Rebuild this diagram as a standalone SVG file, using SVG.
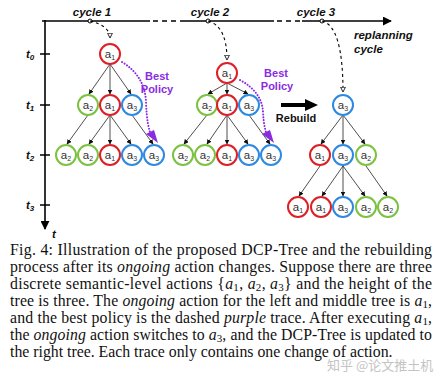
<svg xmlns="http://www.w3.org/2000/svg" width="448" height="385" viewBox="0 0 448 385">
<style>
.bg{fill:#fff}
.ax{stroke:#000;stroke-width:1.6;fill:none}
.axd{stroke:#000;stroke-width:1.6;fill:none;stroke-dasharray:5 4}
.cd{stroke:#000;stroke-width:1.1;fill:none;stroke-dasharray:3 3}
.ed{stroke:#222;stroke-width:0.8;fill:none}
.bp{stroke:#8a2be2;stroke-width:2;fill:none;stroke-dasharray:0.1 2.8;stroke-linecap:round}
.n circle{fill:#fff;stroke-width:2}
.r circle{stroke:#dd1f26}
.g circle{stroke:#7cc242}
.b circle{stroke:#2d8ae0}
.n text{font-family:"Liberation Sans",Arial,sans-serif;font-size:11.5px;fill:#333;text-anchor:middle}
.sub{font-size:7px}
.lab{font-family:"Liberation Sans",Arial,sans-serif;font-weight:bold;font-style:italic;font-size:11.5px;fill:#111}
.pol{font-family:"Liberation Sans",Arial,sans-serif;font-weight:bold;font-size:11px;fill:#8a2be2;text-anchor:middle}
.cap{font-family:"Liberation Serif","Times New Roman",serif;font-size:15.8px;fill:#111}
.it{font-style:italic}
.wm{font-family:"Noto Sans CJK SC","Liberation Sans",sans-serif;font-size:13px;fill:#c4c4c4}
</style>
<defs>
<marker id="ah" viewBox="0 0 10 10" refX="9" refY="5" markerWidth="5" markerHeight="5" markerUnits="userSpaceOnUse" orient="auto"><path d="M0,0 L10,5 L0,10 z" fill="#111"/></marker>
<marker id="oh" viewBox="0 0 10 10" refX="9" refY="5" markerWidth="6" markerHeight="6" markerUnits="userSpaceOnUse" orient="auto"><path d="M1,1 L9,5 L1,9 z" fill="#fff" stroke="#111" stroke-width="1.5"/></marker>
<marker id="axh" viewBox="0 0 10 10" refX="9" refY="5" markerWidth="9" markerHeight="9" markerUnits="userSpaceOnUse" orient="auto"><path d="M0,0 L10,5 L0,10 z" fill="#000"/></marker>
</defs>
<rect class="bg" width="448" height="385"/>

<g id="axes">
<line class="ax" x1="45" y1="20" x2="45" y2="229" marker-end="url(#axh)"/>
<line class="ax" x1="42" y1="21" x2="150" y2="21"/>
<line class="axd" x1="153" y1="21" x2="185" y2="21"/>
<line class="ax" x1="185" y1="21" x2="274" y2="21"/>
<line class="axd" x1="277" y1="21" x2="302" y2="21"/>
<line class="ax" x1="302" y1="21" x2="391" y2="21" marker-end="url(#axh)"/>
<path class="ax" d="M40,54 H50 M40,105 H50 M40,155 H50 M40,205 H50"/>
<circle cx="90" cy="21" r="2" fill="#fff" stroke="#000" stroke-width="1"/>
<circle cx="208" cy="21" r="2" fill="#fff" stroke="#000" stroke-width="1"/>
<circle cx="322" cy="21" r="2" fill="#fff" stroke="#000" stroke-width="1"/>
<text class="lab" x="92" y="16" text-anchor="middle">cycle 1</text>
<text class="lab" x="210" y="16" text-anchor="middle">cycle 2</text>
<text class="lab" x="316" y="16" text-anchor="middle">cycle 3</text>
<text class="lab" x="354" y="39">replanning</text>
<text class="lab" x="354" y="53">cycle</text>
<text class="lab" x="26" y="58">t<tspan font-size="8" dy="2">0</tspan></text>
<text class="lab" x="26" y="109">t<tspan font-size="8" dy="2">1</tspan></text>
<text class="lab" x="26" y="159">t<tspan font-size="8" dy="2">2</tspan></text>
<text class="lab" x="26" y="209">t<tspan font-size="8" dy="2">3</tspan></text>
<text class="lab" x="52" y="238">t</text>
</g>

<g id="connectors">
<path class="cd" d="M90,21 Q110,26 110,38" marker-end="url(#oh)"/>
<path class="cd" d="M208,21 Q227,26 227,60" marker-end="url(#oh)"/>
<path class="cd" d="M322,21 Q343,26 343,92" marker-end="url(#oh)"/>
<line class="ed" x1="110" y1="64" x2="89" y2="94" marker-end="url(#ah)"/>
<line class="ed" x1="110" y1="64" x2="110" y2="94" marker-end="url(#ah)"/>
<line class="ed" x1="110" y1="64" x2="131" y2="94" marker-end="url(#ah)"/>
<line class="ed" x1="88" y1="115" x2="67" y2="144" marker-end="url(#ah)"/>
<line class="ed" x1="110" y1="115" x2="89" y2="144" marker-end="url(#ah)"/>
<line class="ed" x1="110" y1="115" x2="110" y2="144" marker-end="url(#ah)"/>
<line class="ed" x1="110" y1="115" x2="131" y2="144" marker-end="url(#ah)"/>
<line class="ed" x1="132" y1="115" x2="153" y2="144" marker-end="url(#ah)"/>
<line class="ed" x1="227" y1="83" x2="208" y2="94" marker-end="url(#ah)"/>
<line class="ed" x1="227" y1="83" x2="227" y2="94" marker-end="url(#ah)"/>
<line class="ed" x1="227" y1="83" x2="248" y2="94" marker-end="url(#ah)"/>
<line class="ed" x1="207" y1="115" x2="184" y2="144" marker-end="url(#ah)"/>
<line class="ed" x1="227" y1="115" x2="207" y2="144" marker-end="url(#ah)"/>
<line class="ed" x1="227" y1="115" x2="227" y2="144" marker-end="url(#ah)"/>
<line class="ed" x1="227" y1="115" x2="248" y2="144" marker-end="url(#ah)"/>
<line class="ed" x1="249" y1="115" x2="270" y2="144" marker-end="url(#ah)"/>
<line class="ed" x1="343" y1="115" x2="321" y2="144" marker-end="url(#ah)"/>
<line class="ed" x1="343" y1="115" x2="343" y2="144" marker-end="url(#ah)"/>
<line class="ed" x1="343" y1="115" x2="365" y2="144" marker-end="url(#ah)"/>
<line class="ed" x1="320" y1="166" x2="299" y2="196" marker-end="url(#ah)"/>
<line class="ed" x1="343" y1="166" x2="322" y2="196" marker-end="url(#ah)"/>
<line class="ed" x1="343" y1="166" x2="343" y2="196" marker-end="url(#ah)"/>
<line class="ed" x1="343" y1="166" x2="365" y2="196" marker-end="url(#ah)"/>
<line class="ed" x1="366" y1="166" x2="387" y2="196" marker-end="url(#ah)"/>
<path class="bp" d="M122,62 Q145,76 146,102 Q147,128 152,137"/>
<path d="M146,134 L158,143 L154,130 z" fill="#8a2be2"/>
<path class="bp" d="M240,80 Q262,92 263,112 Q264,130 268,137"/>
<path d="M262,134 L274,143 L270,130 z" fill="#8a2be2"/>
<line x1="281" y1="105" x2="307" y2="105" stroke="#000" stroke-width="4"/>
<path d="M305,99 L318,105 L305,111 z" fill="#000"/>
</g>

<g id="labels">
<text class="pol" x="157" y="80">Best</text>
<text class="pol" x="157" y="93">Policy</text>
<text class="pol" x="276" y="77">Best</text>
<text class="pol" x="277" y="90">Policy</text>
<text x="296" y="122" text-anchor="middle" font-family="'Liberation Sans',Arial,sans-serif" font-weight="bold" font-size="11" fill="#111">Rebuild</text>
</g>

<g id="left-tree">
<g id="L0" class="n r"><circle cx="110" cy="54" r="10"/><text x="110" y="58">a<tspan class="sub" dy="2">1</tspan></text></g>
<g id="L1a" class="n g"><circle cx="88" cy="105" r="10"/><text x="88" y="109">a<tspan class="sub" dy="2">2</tspan></text></g>
<g id="L1b" class="n r"><circle cx="110" cy="105" r="10"/><text x="110" y="109">a<tspan class="sub" dy="2">1</tspan></text></g>
<g id="L1c" class="n b"><circle cx="132" cy="105" r="10"/><text x="132" y="109">a<tspan class="sub" dy="2">3</tspan></text></g>
<g id="L2a" class="n g"><circle cx="66" cy="155" r="10"/><text x="66" y="159">a<tspan class="sub" dy="2">2</tspan></text></g>
<g id="L2b" class="n g"><circle cx="88" cy="155" r="10"/><text x="88" y="159">a<tspan class="sub" dy="2">2</tspan></text></g>
<g id="L2c" class="n r"><circle cx="110" cy="155" r="10"/><text x="110" y="159">a<tspan class="sub" dy="2">1</tspan></text></g>
<g id="L2d" class="n b"><circle cx="132" cy="155" r="10"/><text x="132" y="159">a<tspan class="sub" dy="2">3</tspan></text></g>
<g id="L2e" class="n b"><circle cx="154" cy="155" r="10"/><text x="154" y="159">a<tspan class="sub" dy="2">3</tspan></text></g>
</g>

<g id="middle-tree">
<g id="M0" class="n r"><circle cx="227" cy="73" r="10"/><text x="227" y="77">a<tspan class="sub" dy="2">1</tspan></text></g>
<g id="M1a" class="n g"><circle cx="207" cy="105" r="10"/><text x="207" y="109">a<tspan class="sub" dy="2">2</tspan></text></g>
<g id="M1b" class="n r"><circle cx="227" cy="105" r="10"/><text x="227" y="109">a<tspan class="sub" dy="2">1</tspan></text></g>
<g id="M1c" class="n b"><circle cx="249" cy="105" r="10"/><text x="249" y="109">a<tspan class="sub" dy="2">3</tspan></text></g>
<g id="M2a" class="n g"><circle cx="183" cy="155" r="10"/><text x="183" y="159">a<tspan class="sub" dy="2">2</tspan></text></g>
<g id="M2b" class="n g"><circle cx="205" cy="155" r="10"/><text x="205" y="159">a<tspan class="sub" dy="2">2</tspan></text></g>
<g id="M2c" class="n r"><circle cx="227" cy="155" r="10"/><text x="227" y="159">a<tspan class="sub" dy="2">1</tspan></text></g>
<g id="M2d" class="n b"><circle cx="249" cy="155" r="10"/><text x="249" y="159">a<tspan class="sub" dy="2">3</tspan></text></g>
<g id="M2e" class="n b"><circle cx="271" cy="155" r="10"/><text x="271" y="159">a<tspan class="sub" dy="2">3</tspan></text></g>
</g>

<g id="right-tree">
<g id="R0" class="n b"><circle cx="343" cy="105" r="10"/><text x="343" y="109">a<tspan class="sub" dy="2">3</tspan></text></g>
<g id="R1a" class="n r"><circle cx="320" cy="155" r="10"/><text x="320" y="159">a<tspan class="sub" dy="2">1</tspan></text></g>
<g id="R1b" class="n b"><circle cx="343" cy="155" r="10"/><text x="343" y="159">a<tspan class="sub" dy="2">3</tspan></text></g>
<g id="R1c" class="n g"><circle cx="366" cy="155" r="10"/><text x="366" y="159">a<tspan class="sub" dy="2">2</tspan></text></g>
<g id="R2a" class="n r"><circle cx="298" cy="207" r="10"/><text x="298" y="211">a<tspan class="sub" dy="2">1</tspan></text></g>
<g id="R2b" class="n r"><circle cx="321" cy="207" r="10"/><text x="321" y="211">a<tspan class="sub" dy="2">1</tspan></text></g>
<g id="R2c" class="n b"><circle cx="343" cy="207" r="10"/><text x="343" y="211">a<tspan class="sub" dy="2">3</tspan></text></g>
<g id="R2d" class="n g"><circle cx="366" cy="207" r="10"/><text x="366" y="211">a<tspan class="sub" dy="2">2</tspan></text></g>
<g id="R2e" class="n g"><circle cx="388" cy="207" r="10"/><text x="388" y="211">a<tspan class="sub" dy="2">2</tspan></text></g>
</g>

<g id="caption">
<text class="cap" x="10" y="255" textLength="422" lengthAdjust="spacing">Fig. 4: Illustration of the proposed DCP-Tree and the rebuilding</text>
<text class="cap" x="10" y="272" textLength="422" lengthAdjust="spacing">process after its <tspan class="it">ongoing</tspan> action changes. Suppose there are three</text>
<text class="cap" x="10" y="289" textLength="422" lengthAdjust="spacing">discrete semantic-level actions {<tspan class="it">a</tspan><tspan font-size="11" dy="2">1</tspan><tspan dy="-2">, </tspan><tspan class="it">a</tspan><tspan font-size="11" dy="2">2</tspan><tspan dy="-2">, </tspan><tspan class="it">a</tspan><tspan font-size="11" dy="2">3</tspan><tspan dy="-2">} and the height of the</tspan></text>
<text class="cap" x="10" y="306" textLength="422" lengthAdjust="spacing">tree is three. The <tspan class="it">ongoing</tspan> action for the left and middle tree is <tspan class="it">a</tspan><tspan font-size="11" dy="2">1</tspan><tspan dy="-2">,</tspan></text>
<text class="cap" x="10" y="323" textLength="422" lengthAdjust="spacing">and the best policy is the dashed <tspan class="it">purple</tspan> trace. After executing <tspan class="it">a</tspan><tspan font-size="11" dy="2">1</tspan><tspan dy="-2">,</tspan></text>
<text class="cap" x="10" y="340" textLength="422" lengthAdjust="spacing">the <tspan class="it">ongoing</tspan> action switches to <tspan class="it">a</tspan><tspan font-size="11" dy="2">3</tspan><tspan dy="-2">, and the DCP-Tree is updated to</tspan></text>
<text class="cap" x="10" y="357">the right tree. Each trace only contains one change of action.</text>
<text class="wm" x="327" y="370">知乎 @论文推土机</text>
</g>
</svg>
